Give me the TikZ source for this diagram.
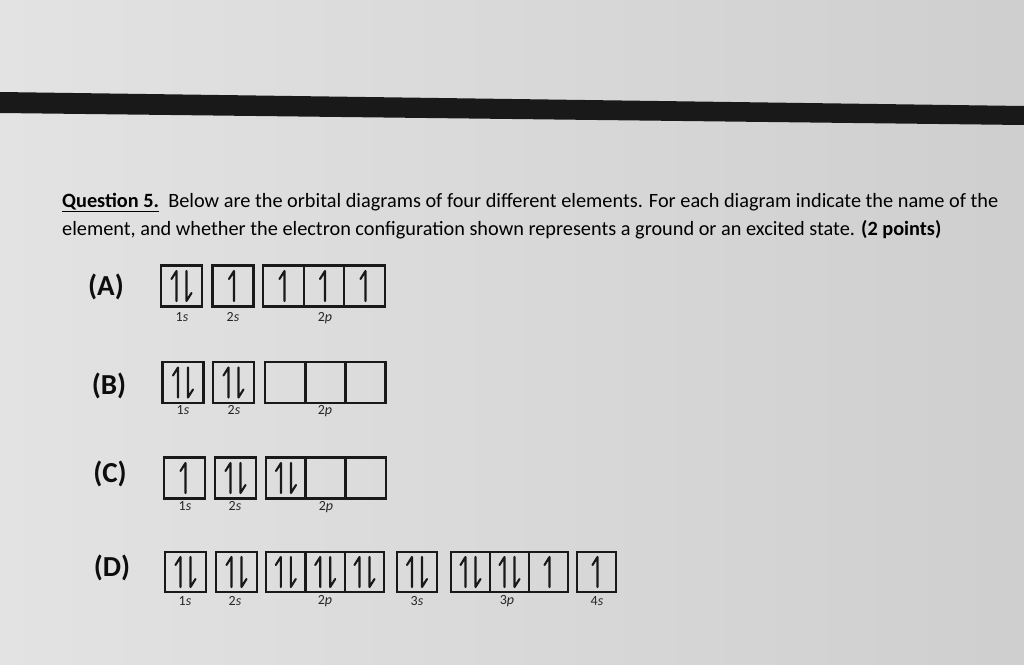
\documentclass[tikz,border=0pt]{standalone}
\usepackage{fontspec}
\setmainfont{Carlito}
\usetikzlibrary{calc}
\newcommand\eup[2]{\draw[elec] ($(#1)+(#2,15)$) -- ++(0,-30) -- ++(-5,8);}
\newcommand\edn[2]{\draw[elec] ($(#1)+(#2,-15)$) -- ++(0,30) -- ++(5,-8);}
\newcommand\epair[1]{\eup{#1}{-5}\edn{#1}{5}}
\newcommand\esingle[1]{\eup{#1}{1}}
\begin{document}
\begin{tikzpicture}[x=1pt,y=-1pt,
  orb/.style={draw=black!90, line width=2.2pt, minimum width=41pt, minimum height=41pt, inner sep=0pt, outer sep=0pt},
  cell/.style={orb, minimum width=40.5pt},
  elec/.style={line width=2.1pt, line cap=round, line join=round, draw=black!90},
  sub/.style={font=\fontsize{14}{16}\selectfont, text=black!85, inner sep=0pt},
  rowlab/.style={font=\bfseries\fontsize{29}{31}\selectfont, text=black!95, inner sep=0pt},
  qtext/.style={anchor=base west, inner sep=0pt, font=\fontsize{20.3}{24}\selectfont, text=black}
  ]
\useasboundingbox (0,0) rectangle (1024,664);
\shade[left color=black!11, right color=black!19] (0,0) rectangle (1024,664);
\fill[black!90] (0,92) -- (1024,106) -- (1024,125) -- (0,113) -- cycle;

% question text
\node[qtext] (q1) at (62,207) {\underline{\textbf{Question 5.}}\ \ Below are the orbital diagrams of four different elements. For each diagram indicate the name of the};
\node[qtext] (q2) at (62,235) {element, and whether the electron configuration shown represents a ground or an excited state. \textbf{(2 points)}};

% row labels
\node[rowlab] (la) at (106,287) {(A)};
\node[rowlab] (lb) at (109,386) {(B)};
\node[rowlab] (lc) at (110,474) {(C)};
\node[rowlab] (ld) at (112,568) {(D)};

% row A
\node[orb] (A1s) at (181.5,286) {};
\node[orb] (A2s) at (233,286) {};
\node[cell] (A2pa) at (283.5,286) {};
\node[cell] (A2pb) at (324,286) {};
\node[cell] (A2pc) at (364.5,286) {};
\epair{A1s} \esingle{A2s} \esingle{A2pa} \esingle{A2pb} \esingle{A2pc}
\node[sub] (A1sl) at (182,317) {1\textit{s}};
\node[sub] (A2sl) at (233,317) {2\textit{s}};
\node[sub] (A2pl) at (325,318) {2\textit{p}};

% row B
\node[orb] (B1s) at (183,382.5) {};
\node[orb] (B2s) at (233.5,382.5) {};
\node[cell] (B2pa) at (285.2,382.5) {};
\node[cell] (B2pb) at (325.2,382.5) {};
\node[cell] (B2pc) at (365.2,382.5) {};
\epair{B1s} \epair{B2s}
\node[sub] (B1sl) at (183,410) {1\textit{s}};
\node[sub] (B2sl) at (234,410) {2\textit{s}};
\node[sub] (B2pl) at (325,411) {2\textit{p}};

% row C
\node[orb] (C1s) at (184.5,478) {};
\node[orb] (C2s) at (235.5,478) {};
\node[cell] (C2pa) at (286,478) {};
\node[cell] (C2pb) at (325.7,478) {};
\node[cell] (C2pc) at (365.4,478) {};
\esingle{C1s} \epair{C2s} \epair{C2pa}
\node[sub] (C1sl) at (185,506) {1\textit{s}};
\node[sub] (C2sl) at (235,506) {2\textit{s}};
\node[sub] (C2pl) at (326,507) {2\textit{p}};

% row D
\node[orb, minimum height=40pt] (D1s) at (185.5,572) {};
\node[orb, minimum height=40pt] (D2s) at (236.5,572) {};
\node[cell, minimum height=40pt, minimum width=39.5pt] (D2pa) at (285.8,572) {};
\node[cell, minimum height=40pt, minimum width=39.5pt] (D2pb) at (325.2,572) {};
\node[cell, minimum height=40pt, minimum width=39.5pt] (D2pc) at (364.5,572) {};
\node[orb, minimum height=40pt, minimum width=40pt] (D3s) at (417,572) {};
\node[cell, minimum height=40pt, minimum width=39pt] (D3pa) at (470.5,572) {};
\node[cell, minimum height=40pt, minimum width=39pt] (D3pb) at (509.5,572) {};
\node[cell, minimum height=40pt, minimum width=39pt] (D3pc) at (548.5,572) {};
\node[orb, minimum height=40pt, minimum width=39.5pt] (D4s) at (596.5,572) {};
\epair{D1s} \epair{D2s} \epair{D2pa} \epair{D2pb} \epair{D2pc}
\epair{D3s} \epair{D3pa} \epair{D3pb} \esingle{D3pc} \esingle{D4s}
\node[sub] (D1sl) at (185,601) {1\textit{s}};
\node[sub] (D2sl) at (235,601) {2\textit{s}};
\node[sub] (D2pl) at (325,601) {2\textit{p}};
\node[sub] (D3sl) at (417,601) {3\textit{s}};
\node[sub] (D3pl) at (507,601) {3\textit{p}};
\node[sub] (D4sl) at (597,601) {4\textit{s}};
\end{tikzpicture}
\end{document}
